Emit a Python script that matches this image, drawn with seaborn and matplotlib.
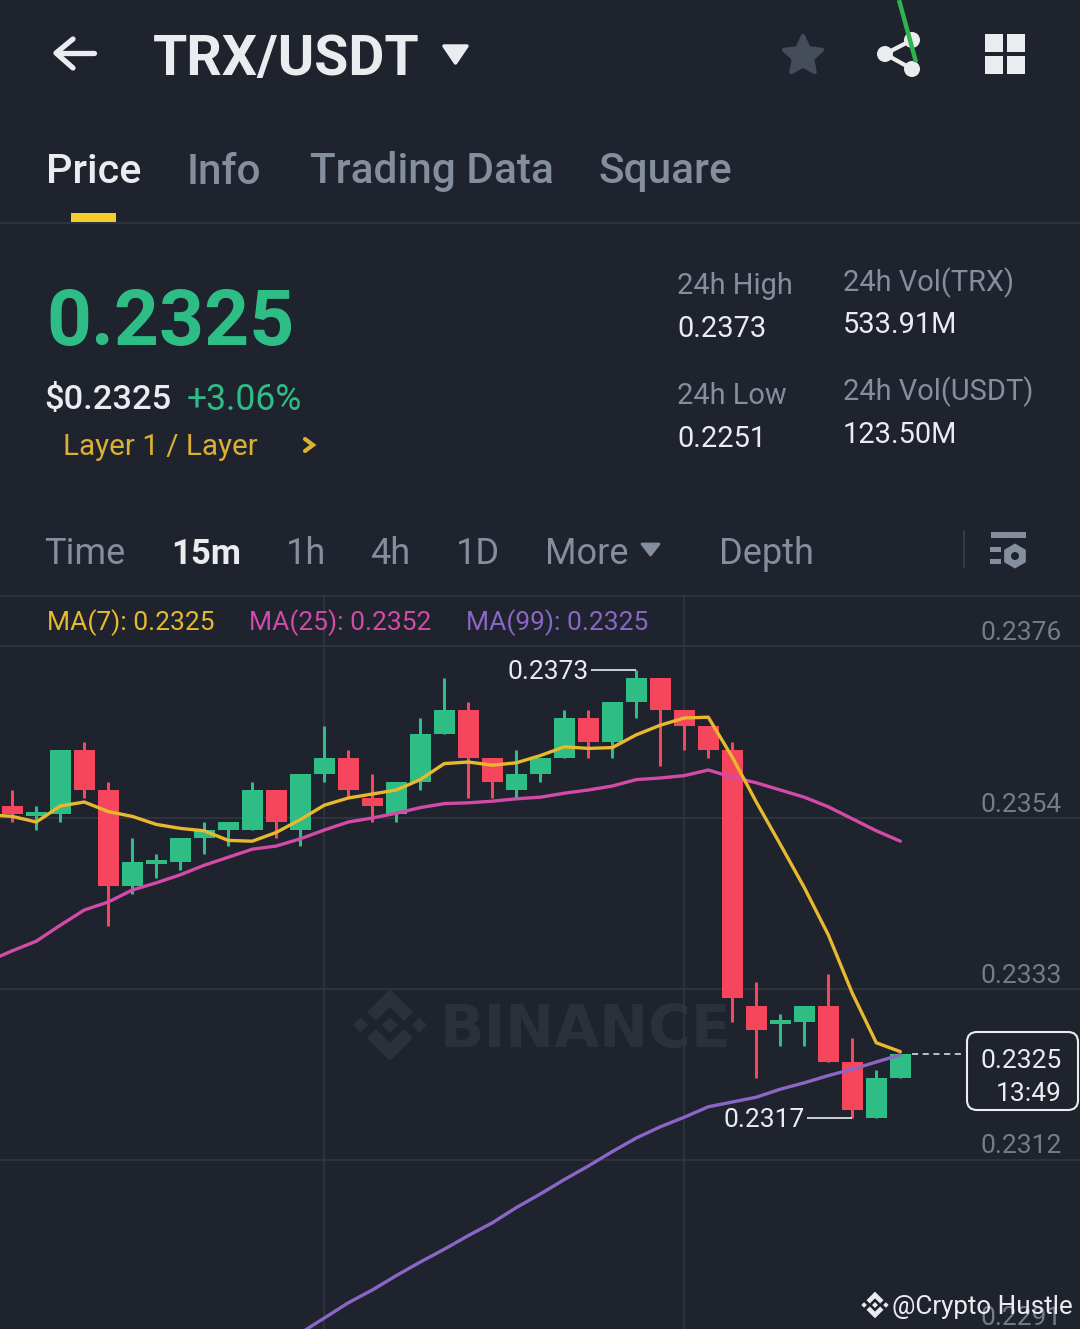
import numpy as np
import pandas as pd
import matplotlib
matplotlib.use("Agg")
import matplotlib.pyplot as plt
import seaborn as sns
from matplotlib.patches import Rectangle, FancyBboxPatch, Polygon, Circle, RegularPolygon, PathPatch
from matplotlib.path import Path

# --- candles, 15m TRX/USDT ---
opens = [0.2356, 0.2355, 0.2355, 0.2363, 0.2358, 0.2346, 0.2349, 0.2349, 0.2352, 0.2353,
         0.2353, 0.2358, 0.2353, 0.2360, 0.2362, 0.2357, 0.2355, 0.2359, 0.2365, 0.2368,
         0.2362, 0.2358, 0.2360, 0.2362, 0.2367, 0.2364, 0.2369, 0.2372, 0.2368, 0.2366,
         0.2363, 0.2331, 0.2329, 0.2329, 0.2331, 0.2324, 0.2317, 0.2322]
highs = [0.2358, 0.2356, 0.2363, 0.2364, 0.2359, 0.2352, 0.2350, 0.2352, 0.2354, 0.2354,
         0.2359, 0.2358, 0.2360, 0.2366, 0.2363, 0.2360, 0.2359, 0.2367, 0.2372, 0.2369,
         0.2362, 0.2363, 0.2362, 0.2368, 0.2368, 0.2369, 0.2373, 0.2372, 0.2368, 0.2366,
         0.2364, 0.2334, 0.2330, 0.2331, 0.2335, 0.2327, 0.2323, 0.2325]
lows = [0.2354, 0.2353, 0.2354, 0.2357, 0.2341, 0.2345, 0.2347, 0.2348, 0.2350, 0.2351,
        0.2353, 0.2352, 0.2351, 0.2359, 0.2357, 0.2354, 0.2354, 0.2358, 0.2365, 0.2357,
        0.2357, 0.2357, 0.2359, 0.2362, 0.2362, 0.2362, 0.2367, 0.2361, 0.2363, 0.2362,
        0.2329, 0.2322, 0.2326, 0.2326, 0.2324, 0.2317, 0.2317, 0.2322]
closes = [0.2355, 0.2355, 0.2363, 0.2358, 0.2346, 0.2349, 0.2349, 0.2352, 0.2353, 0.2354,
          0.2358, 0.2354, 0.2360, 0.2362, 0.2358, 0.2356, 0.2359, 0.2365, 0.2368, 0.2362,
          0.2359, 0.2360, 0.2362, 0.2367, 0.2364, 0.2369, 0.2372, 0.2368, 0.2366, 0.2363,
          0.2332, 0.2328, 0.2329, 0.2331, 0.2324, 0.2318, 0.2322, 0.2325]

# --- moving averages (first value sits one candle left of the screen) ---
ma7 = [0.23549, 0.23547, 0.23540, 0.23560, 0.23565, 0.23553, 0.23547, 0.23537, 0.23532, 0.23529,
       0.23517, 0.23516, 0.23527, 0.23543, 0.23561, 0.23570, 0.23575, 0.23580, 0.23593, 0.23613,
       0.23615, 0.23611, 0.23614, 0.23623, 0.23634, 0.23632, 0.23633, 0.23649, 0.23661, 0.23670,
       0.23671, 0.23621, 0.23565, 0.23512, 0.23458, 0.23399, 0.23326, 0.23264, 0.23253]
ma25 = [0.23366, 0.23379, 0.23391, 0.23411, 0.23430, 0.23440, 0.23455, 0.23464, 0.23474, 0.23486,
        0.23496, 0.23506, 0.23510, 0.23519, 0.23530, 0.23540, 0.23545, 0.23551, 0.23558, 0.23563,
        0.23564, 0.23566, 0.23569, 0.23571, 0.23576, 0.23580, 0.23585, 0.23593, 0.23595, 0.23598,
        0.23605, 0.23596, 0.23589, 0.23580, 0.23571, 0.23559, 0.23544, 0.23529, 0.23516]
ma99 = [0.22901, 0.22920, 0.22939, 0.22955, 0.22973, 0.22990, 0.23006, 0.23023, 0.23039, 0.23058,
        0.23075, 0.23093, 0.23110, 0.23128, 0.23145, 0.23159, 0.23171, 0.23184, 0.23190, 0.23196,
        0.23206, 0.23214, 0.23223, 0.23231, 0.23240, 0.23249]

grid_prices = [0.2376, 0.23545, 0.23331, 0.23118]
axis_prices = [0.2376, 0.23545, 0.23331, 0.23118, 0.22904]
axis_labels = ["0.2376", "0.2354", "0.2333", "0.2312", "0.2291"]
time_ticks = [13, 28]

BG = "#1e232d"
GREEN = "#2ebd85"
RED = "#f6465d"
GRAY = "#848e9c"
DIM = "#757c88"
WHITE = "#eaecef"
GRID = "#323742"
YELLOW = "#e8b92e"
GOLD = "#dcb032"
PINK = "#d34aa8"
PURPLE = "#8b66c6"
MARK = "#2b303b"

sns.set_theme(style="dark", rc={"axes.facecolor": BG, "figure.facecolor": BG})
plt.rcParams["font.family"] = ["Roboto", "DejaVu Sans"]

fig = plt.figure(figsize=(10.8, 13.29), dpi=100, facecolor=BG)


def pixel_axes(zorder):
    a = fig.add_axes([0, 0, 1, 1], zorder=zorder)
    a.set_xlim(0, 1080)
    a.set_ylim(1329, 0)
    a.axis("off")
    return a


def binance_logo(a, cx, cy, s, color):
    # mark in a 72 unit box
    shapes = [
        [(0, -8), (8, 0), (0, 8), (-8, 0)],
        [(0, -36), (23, -13), (14, -4), (0, -18), (-14, -4), (-23, -13)],
        [(0, 36), (23, 13), (14, 4), (0, 18), (-14, 4), (-23, 13)],
        [(-37, 0), (-29.5, -7.5), (-22, 0), (-29.5, 7.5)],
        [(37, 0), (29.5, -7.5), (22, 0), (29.5, 7.5)],
    ]
    for shape in shapes:
        a.add_patch(Polygon([(cx + s * x, cy + s * y) for x, y in shape], closed=True, fc=color, ec="none"))


# --- app chrome under the chart ---
ui = pixel_axes(0)

# top bar
ui.plot([94, 58], [53, 53], color=WHITE, lw=3.8, solid_capstyle="round")
ui.plot([73, 56, 73], [39, 53, 68], color=WHITE, lw=3.8, solid_capstyle="round", solid_joinstyle="round")
ui.text(153, 60, "TRX/USDT", color=WHITE, fontsize=40, fontweight="bold", va="center")
ui.add_patch(Polygon([(444, 46), (467, 46), (455.5, 63)], closed=True, fc=WHITE, ec=WHITE, lw=2.5, joinstyle="round"))

star = Path.unit_regular_star(5, innerCircle=0.48)
star_xy = star.vertices * np.array([20, -20]) + np.array([803, 56])
ui.add_patch(PathPatch(Path(star_xy, star.codes), fc="#454c5a", ec="#454c5a", lw=3, joinstyle="round"))

for a_pt, b_pt in [((885, 54), (912, 40)), ((885, 54), (912, 69))]:
    ui.plot([a_pt[0], b_pt[0]], [a_pt[1], b_pt[1]], color=WHITE, lw=3)
for c in [(912, 40), (885, 54), (912, 69)]:
    ui.add_patch(Circle(c, 8, fc=WHITE, ec="none"))
ui.plot([899, 916], [0, 62], color="#2fb34c", lw=3.2, solid_capstyle="butt", zorder=5)

for x0 in (985, 1007):
    for y0 in (34, 56):
        ui.add_patch(Rectangle((x0, y0), 18, 18, fc=WHITE, ec="none"))

# tabs
ui.text(46, 172, "Price", color=WHITE, fontsize=29.8, fontweight="medium", va="center")
for x0, label in [(187, "Info"), (310, "Trading Data"), (598, "Square")]:
    ui.text(x0, 172, label, color=GRAY, fontsize=30.5, fontweight="medium", va="center")
ui.add_patch(Rectangle((71, 213), 45, 9, fc="#f5cc2a", ec="none"))
ui.plot([0, 1080], [222.5, 222.5], color=GRID, lw=1.2)

# price block
ui.text(46, 324, "0.2325", color=GREEN, fontsize=56.5, fontweight="bold", va="center")
ui.text(44, 400, "$0.2325", color=WHITE, fontsize=24.8, fontweight="medium", va="center")
ui.text(187, 400, "+3.06%", color=GREEN, fontsize=25.6, va="center")
ui.text(63, 447, "Layer 1 / Layer", color=GOLD, fontsize=21.3, va="center")
ui.plot([305, 313, 305], [439, 445, 451], color=GOLD, lw=3, solid_joinstyle="miter")

# 24h stats
for x0, y0, label, col in [(677, 285.5, "24h High", GRAY), (677, 329, "0.2373", WHITE),
                           (677, 395.5, "24h Low", GRAY), (677, 439, "0.2251", WHITE),
                           (843, 282.5, "24h Vol(TRX)", GRAY), (843, 325, "533.91M", WHITE),
                           (843, 391.5, "24h Vol(USDT)", GRAY), (843, 435, "123.50M", WHITE)]:
    ui.text(x0, y0, label, color=col, fontsize=20.9, va="center")

# interval row
for x0, label in [(44, "Time"), (286, "1h"), (370, "4h"), (456, "1D"), (545, "More"), (719, "Depth")]:
    ui.text(x0, 554, label, color=GRAY, fontsize=26, va="center")
ui.text(171, 554, "15m", color=WHITE, fontsize=25, fontweight="bold", va="center")
ui.add_patch(Polygon([(642, 544), (659, 544), (650.5, 555)], closed=True, fc=GRAY, ec=GRAY, lw=2, joinstyle="round"))
ui.plot([964, 964], [531, 567], color="#333a45", lw=1.5)
ui.add_patch(Rectangle((991, 532), 35, 6, fc=GRAY, ec="none"))
ui.add_patch(Rectangle((990, 547), 11, 5, fc=GRAY, ec="none"))
ui.add_patch(Rectangle((990, 559), 11, 5, fc=GRAY, ec="none"))
ui.add_patch(RegularPolygon((1015, 556), 6, radius=12.5, fc=GRAY, ec="none"))
ui.add_patch(Circle((1015, 556), 4, fc=BG, ec="none"))
ui.plot([0, 1080], [596, 596], color=GRID, lw=1.2)

# watermark behind the candles
binance_logo(ui, 390, 1025, 1.0, MARK)
ui.text(440, 1031, "BINANCE", color=MARK, fontsize=42, fontweight="bold", va="center", family="DejaVu Sans")

# price tag on the last candle
ui.add_patch(FancyBboxPatch((977, 1042), 91, 58, boxstyle="round,pad=10,rounding_size=10",
                            fc=BG, ec=WHITE, lw=1.5))
ui.text(1062, 1061, "0.2325", color=WHITE, fontsize=19, ha="right", va="center")
ui.text(1062, 1094, "13:49", color=WHITE, fontsize=19, ha="right", va="center")

# --- chart, x in candles and y in price ---
left_i, right_i = -12.3 / 24, (1080 - 12.3) / 24
ax = fig.add_axes([0, 0, 1, 733 / 1329], zorder=1)
ax.patch.set_alpha(0)
ax.set_xlim(left_i, right_i)
ax.set_ylim(0.2376 - 683 / 80000, 0.2376 + 50 / 80000)
ax.set_xticks(time_ticks)
ax.set_yticks(grid_prices)
ax.grid(True, color=GRID, lw=1.1)
ax.tick_params(labelleft=False, labelbottom=False, length=0)
sns.despine(ax=ax, left=True, bottom=True)

idx = np.arange(len(opens))
o = np.array(opens)
c = np.array(closes)
cols = [GREEN if cl >= op else RED for op, cl in zip(opens, closes)]
ax.vlines(idx, lows, highs, colors=cols, lw=2.2, zorder=2)
# doji candles still show a thin body
body = np.maximum(np.abs(c - o), 0.00004)
base = np.where(np.abs(c - o) < 1e-9, o - 0.00002, np.minimum(o, c))
ax.bar(idx, body, bottom=base, width=0.875, color=cols, lw=0, zorder=3)

ma = pd.DataFrame({"i": np.arange(-1, len(opens)), "ma7": ma7, "ma25": ma25})
sns.lineplot(data=ma, x="i", y="ma25", color=PINK, lw=2.4, ax=ax, zorder=4, estimator=None)
sns.lineplot(x=idx[-len(ma99):], y=ma99, color=PURPLE, lw=2.4, ax=ax, zorder=4, estimator=None)
sns.lineplot(data=ma, x="i", y="ma7", color=YELLOW, lw=2.4, ax=ax, zorder=5, estimator=None)
ax.set_xlabel("")
ax.set_ylabel("")

# axis price labels sit above their gridlines
for price, label in zip(axis_prices, axis_labels):
    ax.annotate(label, xy=(1062 / 1080, price), xycoords=("axes fraction", "data"),
                xytext=(0, 9.5), textcoords="offset points", ha="right", va="center",
                color=DIM, fontsize=19, annotation_clip=False)

# extremes
ax.hlines(0.2373, 24.1, 26, color=WHITE, lw=1.2, zorder=3)
ax.annotate("0.2373", xy=(24.03, 0.2373), xytext=(0, -1.5), textcoords="offset points",
            ha="right", va="center", color=WHITE, fontsize=19)
ax.hlines(0.2317, 33.1, 35, color=WHITE, lw=1.2, zorder=3)
ax.annotate("0.2317", xy=(33.03, 0.2317), xytext=(0, -1.5), textcoords="offset points",
            ha="right", va="center", color=WHITE, fontsize=19)

# last price guide
ax.hlines(closes[-1], 37.5, 39.7, color=WHITE, lw=1.1, linestyles=(0, (4, 3)), zorder=3)

# MA legend row
for x0, label, col in [(47, "MA(7): 0.2325", YELLOW), (249, "MA(25): 0.2352", PINK), (466, "MA(99): 0.2325", PURPLE)]:
    ax.annotate(label, xy=(x0, 623), xycoords=ui.transData, color=col, fontsize=19, va="center")

# --- source credit over everything ---
top = pixel_axes(2)
binance_logo(top, 875, 1305, 0.37, WHITE)
top.text(892, 1307, "@Crypto Hustle", color=WHITE, fontsize=18.7, va="center")

fig.savefig("out.png", dpi=100, facecolor=BG)
